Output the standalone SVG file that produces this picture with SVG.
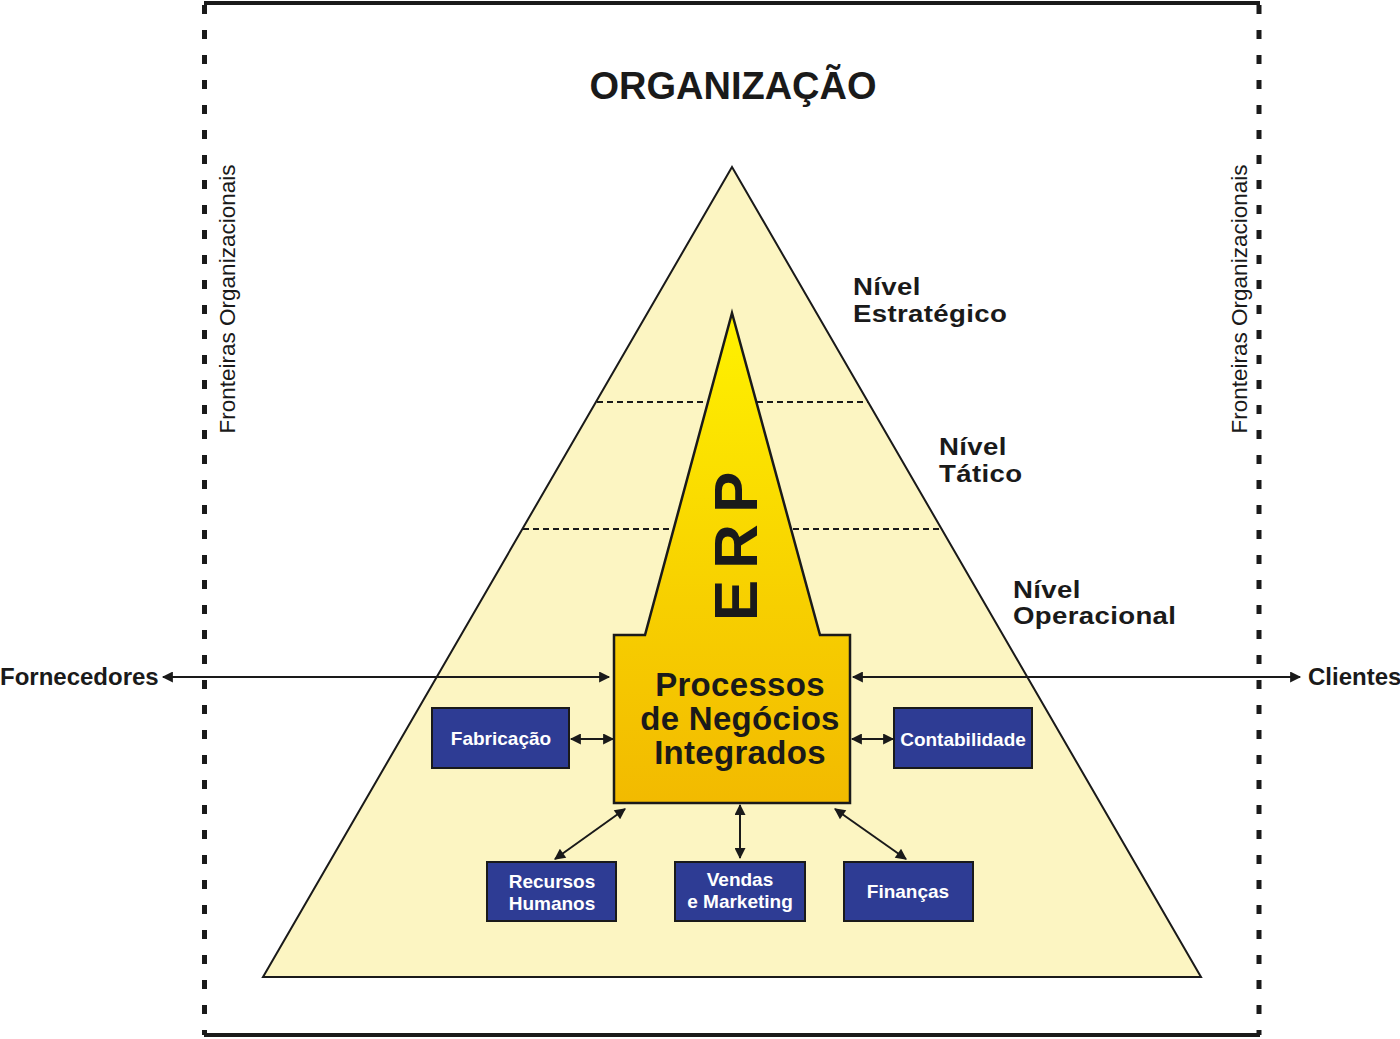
<svg xmlns="http://www.w3.org/2000/svg" width="1400" height="1039" viewBox="0 0 1400 1039">
<defs>
<linearGradient id="gold" x1="0" y1="313" x2="0" y2="803" gradientUnits="userSpaceOnUse">
<stop offset="0" stop-color="#FFF200"/>
<stop offset="0.6" stop-color="#F7CF00"/>
<stop offset="1" stop-color="#F2BA00"/>
</linearGradient>
<marker id="ahs" viewBox="0 0 10 10" refX="9" refY="5" markerWidth="14" markerHeight="11" orient="auto-start-reverse" markerUnits="userSpaceOnUse">
<path d="M0,0 L10,5 L0,10 Z" fill="#1a1a1a"/>
</marker>
</defs>
<style>
.bold{font-family:"Liberation Sans",Arial,sans-serif;font-weight:bold;fill:#1a1a1a}
.reg{font-family:"Liberation Sans",Arial,sans-serif;fill:#1a1a1a}
.box{fill:#2E3C94;stroke:#1a1a1a;stroke-width:2}
.btxt{font-family:"Liberation Sans",Arial,sans-serif;font-weight:bold;fill:#ffffff;font-size:19px;text-anchor:middle}
.conn{stroke:#1a1a1a;stroke-width:2;fill:none;marker-start:url(#ahs);marker-end:url(#ahs)}
.lvl{font-size:24px;letter-spacing:0.3px}
.side{stroke:#1a1a1a;stroke-width:5;stroke-dasharray:9 16}
.lev{stroke:#1a1a1a;stroke-width:2;stroke-dasharray:6 4}
</style>
<rect width="1400" height="1039" fill="#ffffff"/>
<g id="border">
<line x1="204" y1="3" x2="1260" y2="3" stroke="#1a1a1a" stroke-width="4"/>
<line x1="204" y1="1035" x2="1260" y2="1035" stroke="#1a1a1a" stroke-width="4"/>
<line x1="204.5" y1="5" x2="204.5" y2="1035" class="side"/>
<line x1="1259" y1="5" x2="1259" y2="1035" class="side"/>
</g>
<text class="bold" x="733" y="99" font-size="38" text-anchor="middle">ORGANIZAÇÃO</text>
<text class="reg" font-size="22.5" text-anchor="middle" transform="translate(235,299) rotate(-90)">Fronteiras Organizacionais</text>
<text class="reg" font-size="22.5" text-anchor="middle" transform="translate(1247,299) rotate(-90)">Fronteiras Organizacionais</text>
<g id="pyramid">
<polygon points="732,167 1201,977 263,977" fill="#FCF5C2" stroke="#1a1a1a" stroke-width="2"/>
<line x1="597" y1="402" x2="868" y2="402" class="lev"/>
<line x1="523" y1="529" x2="941" y2="529" class="lev"/>
</g>
<g id="levels">
<text class="bold lvl" transform="translate(853,0) scale(1.15,1)"><tspan x="0" y="295">Nível</tspan><tspan x="0" y="322">Estratégico</tspan></text>
<text class="bold lvl" transform="translate(939,0) scale(1.15,1)"><tspan x="0" y="455">Nível</tspan><tspan x="0" y="482">Tático</tspan></text>
<text class="bold lvl" transform="translate(1013,0) scale(1.15,1)"><tspan x="0" y="598">Nível</tspan><tspan x="0" y="624">Operacional</tspan></text>
</g>
<g id="erp">
<path d="M732,313 L820,635 L850,635 L850,803 L614,803 L614,635 L645,635 Z" fill="url(#gold)" stroke="#1a1a1a" stroke-width="2.5" stroke-linejoin="miter"/>
<text class="bold" font-size="62" letter-spacing="11" text-anchor="middle" transform="translate(757,541) rotate(-90)">ERP</text>
<text class="bold" font-size="33" letter-spacing="0.3" text-anchor="middle"><tspan x="740" y="696">Processos</tspan><tspan x="740" y="730">de Negócios</tspan><tspan x="740" y="764">Integrados</tspan></text>
</g>
<g id="fabricacao">
<rect class="box" x="432" y="708" width="137" height="60"/>
<text class="btxt" x="501" y="745">Fabricação</text>
</g>
<g id="contabilidade">
<rect class="box" x="894" y="708" width="138" height="60"/>
<text class="btxt" x="963" y="746">Contabilidade</text>
</g>
<g id="rh">
<rect class="box" x="487" y="862" width="129" height="59"/>
<text class="btxt"><tspan x="552" y="888">Recursos</tspan><tspan x="552" y="910">Humanos</tspan></text>
</g>
<g id="vendas">
<rect class="box" x="675" y="862" width="130" height="59"/>
<text class="btxt"><tspan x="740" y="886">Vendas</tspan><tspan x="740" y="908">e Marketing</tspan></text>
</g>
<g id="financas">
<rect class="box" x="844" y="862" width="129" height="59"/>
<text class="btxt" x="908" y="898">Finanças</text>
</g>
<g id="connectors">
<line class="conn" x1="571" y1="739" x2="613" y2="739"/>
<line class="conn" x1="852" y1="739" x2="893" y2="739"/>
<line class="conn" x1="625" y1="809" x2="555" y2="859"/>
<line class="conn" x1="740" y1="805" x2="740" y2="858"/>
<line class="conn" x1="835" y1="809" x2="906" y2="859"/>
<line class="conn" x1="163" y1="677" x2="609" y2="677"/>
<line class="conn" x1="853" y1="677" x2="1300" y2="677"/>
</g>
<text class="bold" x="0" y="685" font-size="24">Fornecedores</text>
<text class="bold" x="1308" y="685" font-size="24">Clientes</text>
</svg>
